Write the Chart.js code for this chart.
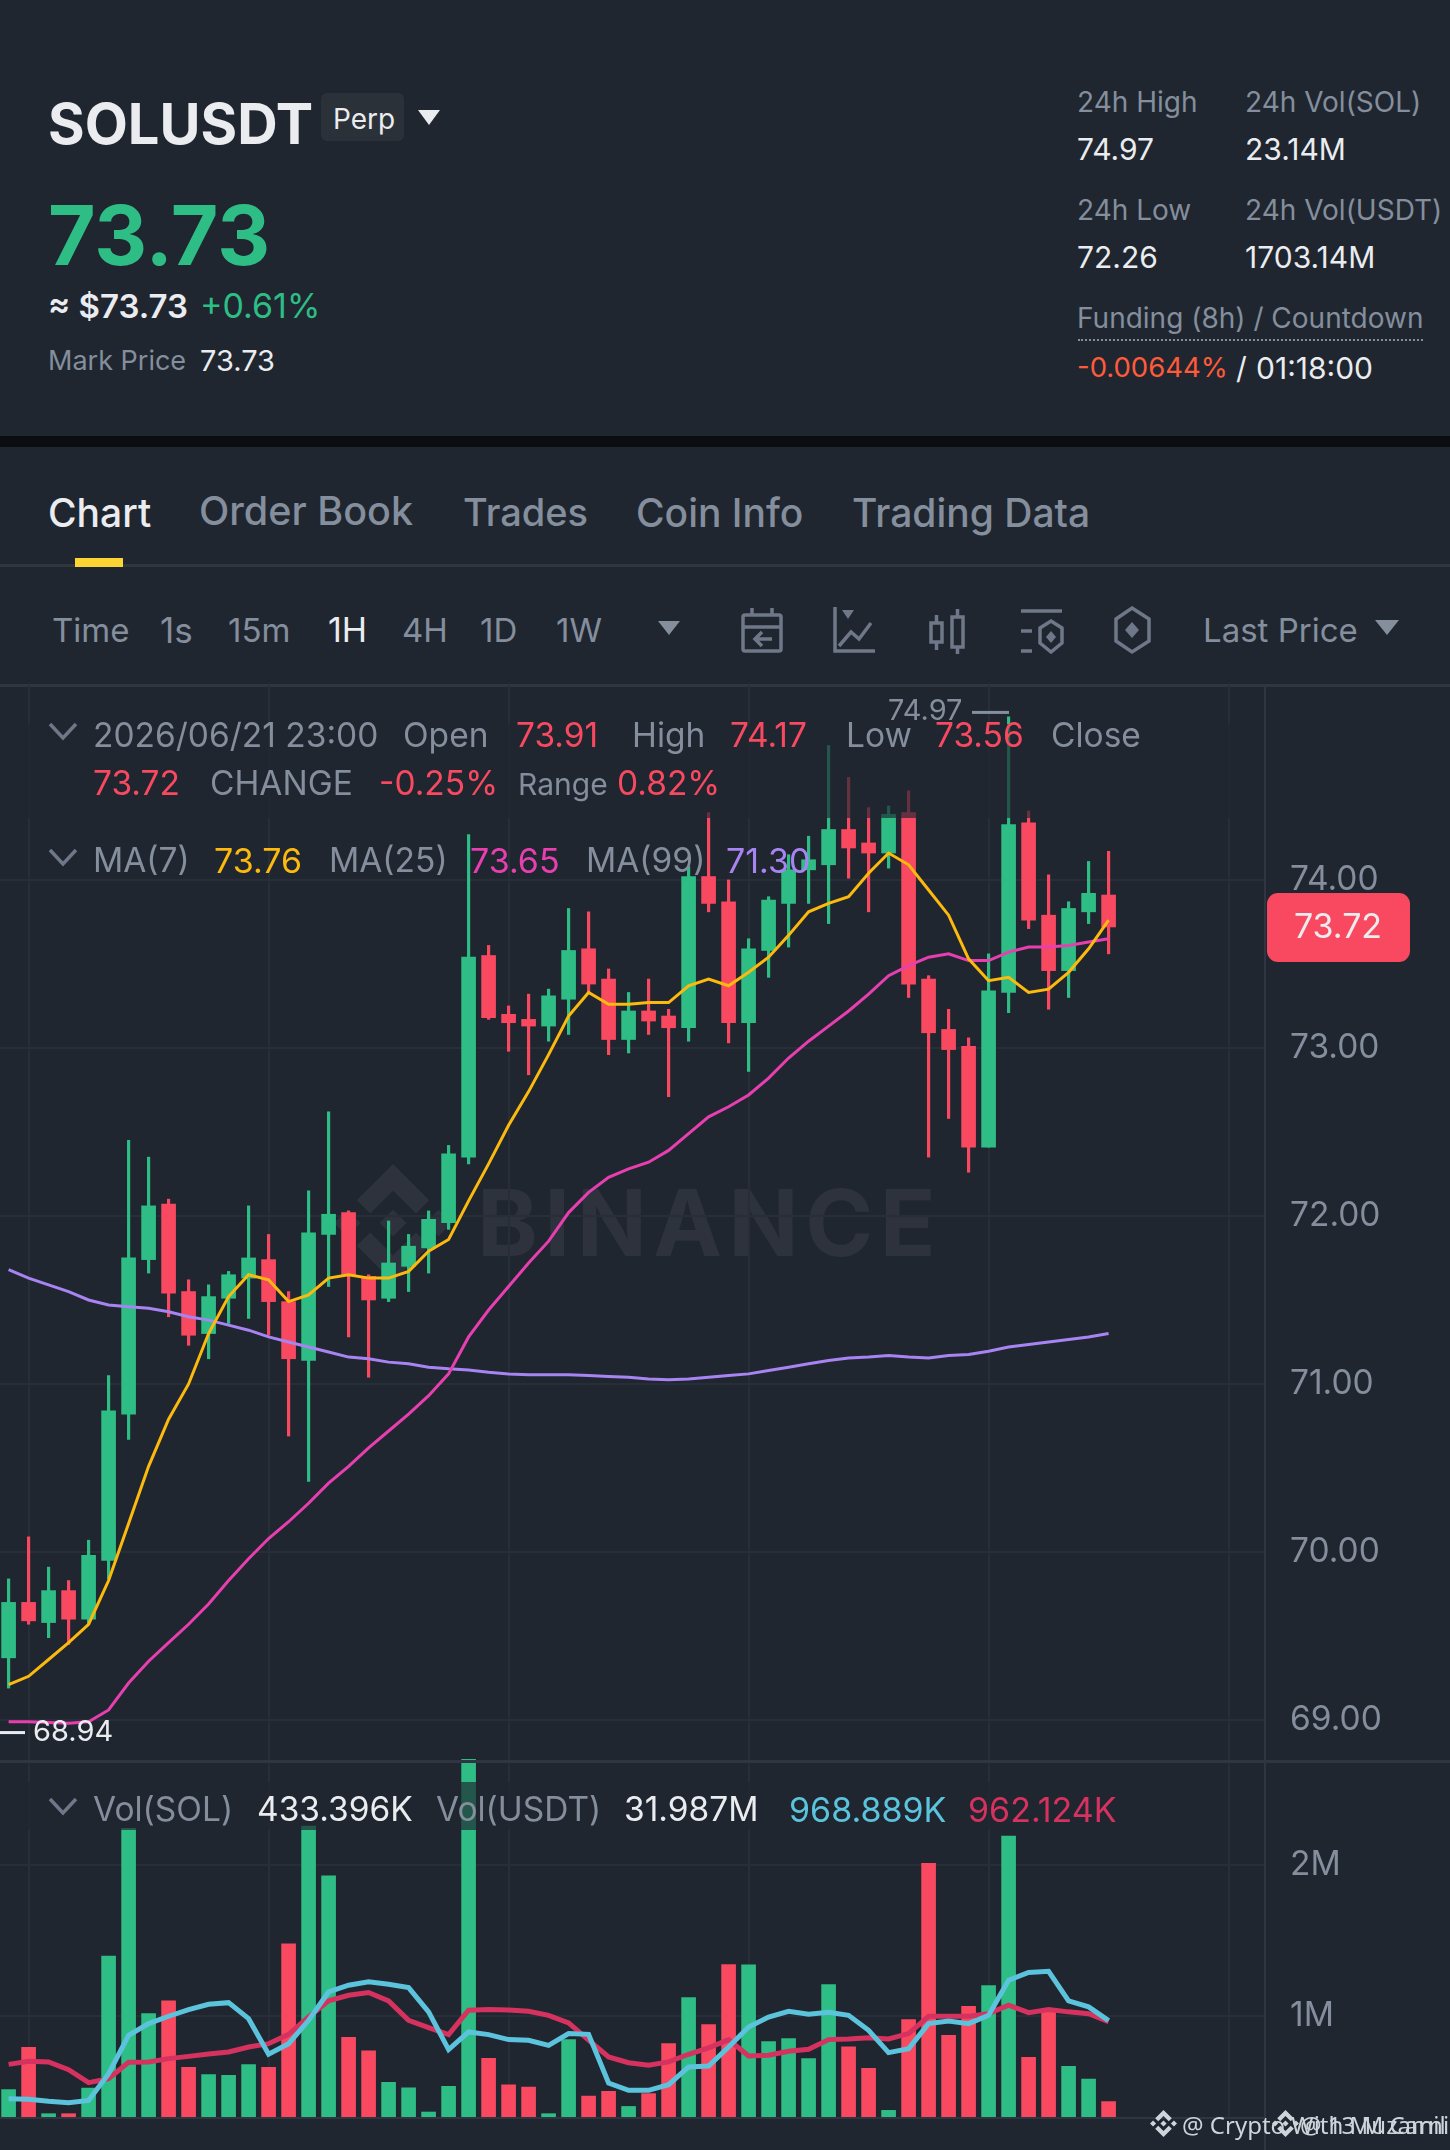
<!DOCTYPE html>
<html lang="en">
<head>
<meta charset="UTF-8">
<title>SOLUSDT Perp</title>
<script src="https://cdn.jsdelivr.net/npm/chart.js"></script>
<style>
  html, body { margin: 0; padding: 0; background: #1f2630; }
  body { width: 1450px; height: 2150px; position: relative; overflow: hidden; font-family: Inter, "Open Sans", sans-serif; color: #848e9c; }
  .t { position: absolute; white-space: pre; line-height: 1; transform: translateY(-50%); }
  .s28 { font-size: 28px; }
  .v30 { font-size: 30px; }
  .s33 { font-size: 33.5px; }
  .w { color: #eaecef; }
  .g { color: #2ebd85; }
  .r { color: #f84960; }
  .line { position: absolute; background: #2f3541; }
  .box { position: absolute; left: 0; background: rgba(31, 38, 48, 0.68); }
  canvas { position: absolute; left: 0; }
  svg { position: absolute; overflow: visible; }
</style>
</head>
<body>
  <!-- header -->
  <div class="t w" style="left:48px;top:124px;font-size:56px;font-weight:700">SOLUSDT</div>
  <div style="position:absolute;left:321px;top:93px;width:83px;height:48px;background:#2b3139;border-radius:6px"></div>
  <div class="t w" style="left:333px;top:119px;font-size:28px">Perp</div>
  <svg style="left:418px;top:110px" width="22" height="16"><polygon points="0,0 22,0 11,15" fill="#eaecef"/></svg>
  <div class="t g" style="left:48px;top:236px;font-size:82px;font-weight:700">73.73</div>
  <div class="t w" style="left:48px;top:306px;font-size:33px;font-weight:600">≈ $73.73</div>
  <div class="t g" style="left:200px;top:306px;font-size:34px">+0.61%</div>
  <div class="t" style="left:48px;top:360px;font-size:27px">Mark Price</div>
  <div class="t s28 w" style="left:200px;top:360px;font-size:29px">73.73</div>

  <div class="t s28" style="left:1077px;top:102px">24h High</div>
  <div class="t s28" style="left:1245px;top:102px">24h Vol(SOL)</div>
  <div class="t v30 w" style="left:1077px;top:149px">74.97</div>
  <div class="t v30 w" style="left:1245px;top:149px">23.14M</div>
  <div class="t s28" style="left:1077px;top:210px">24h Low</div>
  <div class="t s28" style="left:1245px;top:210px">24h Vol(USDT)</div>
  <div class="t v30 w" style="left:1077px;top:257px">72.26</div>
  <div class="t v30 w" style="left:1245px;top:257px">1703.14M</div>
  <div class="t s28" style="left:1077px;top:318px">Funding (8h) / Countdown</div>
  <div style="position:absolute;left:1078px;top:339px;width:345px;border-top:2px dotted #848e9c"></div>
  <div class="t" style="left:1077px;top:368px;color:#ff5b3a;font-size:27.5px">-0.00644%</div>
  <div class="t v30 w" style="left:1236px;top:368px">/</div>
  <div class="t v30 w" style="left:1256px;top:368px">01:18:00</div>

  <div style="position:absolute;left:0;top:436px;width:1450px;height:11px;background:#0b0e11"></div>

  <!-- tabs -->
  <div class="t w" style="left:48px;top:512px;font-size:39px;font-weight:500">Chart</div>
  <div class="t" style="left:199px;top:512px;font-size:39.500px;font-weight:500">Order Book</div>
  <div class="t" style="left:463px;top:512px;font-size:38px;font-weight:500">Trades</div>
  <div class="t" style="left:636px;top:512px;font-size:39px;font-weight:500">Coin Info</div>
  <div class="t" style="left:852px;top:512px;font-size:39px;font-weight:500">Trading Data</div>
  <div class="line" style="left:0;top:564px;width:1450px;height:3px"></div>
  <div style="position:absolute;left:75px;top:558px;width:48px;height:9px;background:#fcd535"></div>

  <!-- toolbar -->
  <div class="t" style="left:52px;top:630px;font-size:33px">Time</div>
  <div class="t" style="left:160px;top:630px;font-size:35px">1s</div>
  <div class="t" style="left:228px;top:630px;font-size:33px">15m</div>
  <div class="t w" style="left:328px;top:630px;font-size:34px">1H</div>
  <div class="t" style="left:402px;top:630px;font-size:33px">4H</div>
  <div class="t" style="left:480px;top:630px;font-size:33px">1D</div>
  <div class="t" style="left:556px;top:630px;font-size:33px">1W</div>
  <svg style="left:658px;top:621px" width="22" height="14"><polygon points="0,0 22,0 11,14" fill="#848e9c"/></svg>
  <svg style="left:740px;top:606px" width="44" height="48" fill="none" stroke="#6f7888" stroke-width="3.5">
    <rect x="3" y="9" width="38" height="36" rx="2"/><path d="M3 21H41M12 2V9M32 2V9M32 33H15M22 26L15 33L22 40"/>
  </svg>
  <svg style="left:833px;top:606px" width="44" height="48" fill="none" stroke="#6f7888" stroke-width="3.5">
    <path d="M2 1V45H42M6 40L18 26L26 33L38 17"/><polygon points="9,4 21,4 15,13" fill="#6f7888" stroke="none"/>
  </svg>
  <svg style="left:929px;top:606px" width="40" height="48" fill="none" stroke="#6f7888" stroke-width="3.5">
    <rect x="2" y="17" width="11" height="19"/><path d="M7.500 9V17M7.500 36V44"/><rect x="23" y="11" width="11" height="30"/><path d="M28.500 3V11M28.500 41V48"/>
  </svg>
  <svg style="left:1020px;top:606px" width="44" height="50" fill="none" stroke="#6f7888" stroke-width="3.500">
    <path d="M1 5H42M1 25H12M1 45H12"/><polygon points="31,15 42,22 42,37 31,46 20,37 20,22"/><polygon points="31,25 36,31 31,37 26,31" fill="#6f7888" stroke="none"/>
  </svg>
  <svg style="left:1114px;top:605px" width="38" height="50" fill="none" stroke="#6f7888" stroke-width="3.500">
    <polygon points="18,3 35,14 35,36 18,47 2,36 2,14"/><polygon points="18,17 25,25 18,33 11,25" fill="#6f7888" stroke="none"/>
  </svg>
  <div class="t" style="left:1203px;top:630px;font-size:33px">Last Price</div>
  <svg style="left:1375px;top:620px" width="24" height="16"><polygon points="0,0 24,0 12,15" fill="#848e9c"/></svg>
  <div class="line" style="left:0;top:684px;width:1450px;height:3px"></div>

  <!-- watermark behind the canvas -->
  <svg style="left:334px;top:1164px" width="118" height="118" viewBox="0 0 126.61 126.61" fill="#2d323d">
    <path id="bn" d="M38.73 53.2l24.59-24.58 24.6 24.6 14.3-14.31L63.32 0 24.42 38.9l14.31 14.3zM0 63.31l14.3-14.31 14.31 14.31-14.31 14.3zM38.73 73.41l24.59 24.59 24.6-24.6 14.31 14.29-38.9 38.91-38.91-38.88v-.03l14.31-14.28zM98 63.31l14.3-14.31 14.31 14.3-14.31 14.32zM77.83 63.3L63.32 48.78 52.59 59.51l-1.24 1.23-2.54 2.54 14.51 14.5 14.51-14.47z"/>
  </svg>
  <div class="t" style="left:477px;top:1223px;font-size:92px;font-weight:700;color:#2d323d;letter-spacing:6.500px">BINANCE</div>

  <canvas id="candleChart" width="1450" height="1076" style="top:685px"></canvas>
  <canvas id="volChart" width="1450" height="400" style="top:1750px"></canvas>

  <div class="line" style="left:0;top:1760px;width:1450px;height:3px"></div>
  <div class="line" style="left:0;top:2117px;width:1265px;height:2px"></div>
  <div class="line" style="left:1264px;top:685px;width:2px;height:1465px"></div>

  <!-- legend rows -->
  <div class="box" style="top:724px;width:1245px;height:94px"></div>
  <div class="box" style="top:1782px;width:1135px;height:48px"></div>

  <svg style="left:48px;top:722px" width="30" height="20" fill="none" stroke="#6f7888" stroke-width="3.500"><path d="M2 2L15 16L28 2"/></svg>
  <div class="t s33" style="left:93px;top:736px">2026/06/21 23:00</div>
  <div class="t s33" style="left:403px;top:736px">Open</div>
  <div class="t s33 r" style="left:516px;top:736px">73.91</div>
  <div class="t s33" style="left:632px;top:736px">High</div>
  <div class="t s33 r" style="left:730px;top:736px">74.17</div>
  <div class="t s33" style="left:846px;top:736px">Low</div>
  <div class="t s33 r" style="left:935px;top:736px">73.56</div>
  <div class="t s33" style="left:1051px;top:736px">Close</div>
  <div class="t s33 r" style="left:93px;top:784px">73.72</div>
  <div class="t s33" style="left:210px;top:784px">CHANGE</div>
  <div class="t s33 r" style="left:379px;top:784px">-0.25%</div>
  <div class="t" style="left:518px;top:784px;font-size:30px">Range</div>
  <div class="t s33 r" style="left:617px;top:784px">0.82%</div>

  <svg style="left:48px;top:848px" width="30" height="20" fill="none" stroke="#6f7888" stroke-width="3.500"><path d="M2 2L15 16L28 2"/></svg>
  <div class="t s33" style="left:93px;top:861px">MA(7)</div>
  <div class="t" style="left:214px;top:861px;color:#fcb90e;font-size:34px">73.76</div>
  <div class="t s33" style="left:329px;top:861px">MA(25)</div>
  <div class="t" style="left:470px;top:861px;color:#e83fb0;font-size:34px">73.65</div>
  <div class="t s33" style="left:586px;top:861px">MA(99)</div>
  <div class="t" style="left:726px;top:861px;color:#a884f3;font-size:34px">71.30</div>

  <svg style="left:48px;top:1797px" width="30" height="20" fill="none" stroke="#6f7888" stroke-width="3.500"><path d="M2 2L15 16L28 2"/></svg>
  <div class="t s33" style="left:93px;top:1810px">Vol(SOL)</div>
  <div class="t s33 w" style="left:257px;top:1810px">433.396K</div>
  <div class="t s33" style="left:436px;top:1810px">Vol(USDT)</div>
  <div class="t s33 w" style="left:624px;top:1810px">31.987M</div>
  <div class="t" style="left:789px;top:1810px;color:#5cc3dd;font-size:34px">968.889K</div>
  <div class="t" style="left:968px;top:1810px;color:#d6325f;font-size:34px">962.124K</div>

  <!-- user watermarks, two overlapping -->
  <svg style="left:1150px;top:2110px" width="27" height="27" viewBox="0 0 126.61 126.61" fill="#cfd3da"><use href="#bn"/></svg>
  <svg style="left:1272px;top:2110px" width="27" height="27" viewBox="0 0 126.61 126.61" fill="#cfd3da"><use href="#bn"/></svg>
  <div class="t" style="left:1182px;top:2125px;font-size:24px;color:#cfd3da;font-family:'Noto Sans'">@ Crypto With Muzamil</div>
  <div class="t" style="left:1300px;top:2125px;font-size:24px;color:#cfd3da;font-family:'Noto Sans'">@ 13 M Carnis</div>

<script>
  const opens = [69.37,69.70,69.58,69.77,69.60,69.95,70.82,71.74,72.07,71.55,71.30,71.51,71.63,71.74,71.49,71.14,71.89,72.02,71.64,71.51,71.70,71.81,71.96,72.35,73.55,73.20,73.17,73.13,73.29,73.59,73.41,73.05,73.22,73.19,73.12,74.02,73.87,73.15,73.58,73.86,74.06,74.09,74.30,74.22,74.16,74.40,73.41,73.11,73.01,72.41,73.33,74.34,73.79,73.46,73.81,73.91];
  const highs = [69.84,70.09,69.91,69.83,70.07,71.05,72.45,72.35,72.10,71.62,71.59,71.67,72.06,71.89,71.55,72.15,72.62,72.03,71.65,71.97,71.89,72.03,72.42,74.27,73.61,73.25,73.32,73.35,73.83,73.81,73.47,73.33,73.41,73.23,74.08,74.40,74.00,73.65,73.90,74.15,74.26,74.80,74.61,74.43,74.44,74.53,73.43,73.23,73.06,73.56,74.97,74.41,74.03,73.87,74.11,74.17];
  const lows = [69.19,69.57,69.49,69.45,69.57,69.84,70.67,71.66,71.40,71.23,71.15,71.36,71.39,71.29,70.69,70.42,71.58,71.28,71.04,71.49,71.55,71.66,71.92,72.31,73.17,72.98,72.84,73.04,73.08,73.33,72.96,72.97,73.08,72.71,73.04,73.81,73.03,72.86,73.42,73.60,73.86,73.74,74.01,73.81,74.07,73.30,72.35,72.58,72.26,72.41,73.21,73.71,73.23,73.30,73.74,73.56];
  const closes = [69.70,69.59,69.77,69.60,69.98,70.84,71.75,72.06,71.54,71.29,71.52,71.65,71.75,71.49,71.15,71.90,72.01,71.65,71.50,71.72,71.82,71.98,72.37,73.54,73.18,73.15,73.13,73.31,73.58,73.38,73.05,73.22,73.16,73.12,74.02,73.86,73.15,73.59,73.88,74.06,74.12,74.30,74.19,74.16,74.39,73.38,73.09,72.99,72.41,73.34,74.33,73.76,73.46,73.83,73.92,73.72];
  const ma7 = [69.21,69.26,69.36,69.46,69.57,69.83,70.17,70.51,70.79,71.00,71.30,71.52,71.65,71.62,71.49,71.53,71.63,71.65,71.63,71.63,71.67,71.79,71.86,72.09,72.31,72.54,72.74,72.96,73.19,73.33,73.26,73.26,73.27,73.27,73.37,73.41,73.37,73.45,73.54,73.67,73.81,73.86,73.90,74.04,74.16,74.09,73.94,73.79,73.53,73.40,73.42,73.33,73.35,73.45,73.59,73.76];
  const ma25 = [68.99,68.99,68.985,68.98,68.99,69.06,69.22,69.35,69.46,69.57,69.69,69.83,69.96,70.08,70.18,70.29,70.41,70.51,70.62,70.72,70.82,70.93,71.06,71.28,71.44,71.58,71.72,71.85,72.02,72.14,72.23,72.28,72.32,72.39,72.49,72.59,72.65,72.72,72.82,72.94,73.04,73.13,73.22,73.32,73.43,73.49,73.54,73.56,73.52,73.52,73.57,73.60,73.60,73.61,73.63,73.65];
  const ma99 = [71.68,71.63,71.59,71.55,71.50,71.47,71.46,71.45,71.43,71.40,71.38,71.35,71.32,71.28,71.25,71.22,71.19,71.16,71.15,71.13,71.12,71.10,71.09,71.083,71.07,71.06,71.055,71.055,71.055,71.05,71.045,71.04,71.03,71.025,71.03,71.04,71.05,71.06,71.08,71.10,71.12,71.14,71.155,71.16,71.17,71.16,71.155,71.17,71.175,71.195,71.22,71.235,71.25,71.265,71.28,71.30];
  const volumes = [511,792,352,352,522,1396,2243,1015,1100,659,611,606,677,659,1478,2259,1929,858,768,560,524,363,533,2701,719,544,529,352,843,469,500,400,485,816,1122,942,1341,1338,830,850,717,1208,796,653,374,976,2011,872,1064,1201,2192,726,1038,666,582,433];
  const volMaShort = [451,447,434,425,440,617,872,949,998,1042,1077,1088,982,746,816,971,1159,1204,1226,1210,1188,1027,777,894,876,843,839,805,883,878,555,507,507,544,662,668,794,927,993,1031,1011,1024,1004,905,757,783,949,967,949,1004,1237,1288,1296,1100,1060,969];
  const volMaLong = [679,699,695,644,558,584,693,695,717,732,748,761,794,816,878,993,1100,1137,1155,1100,971,923,876,1038,1042,1040,1031,1004,954,839,728,690,673,695,746,788,843,735,739,766,779,843,847,856,847,883,998,998,998,1015,1071,1022,1042,1027,1015,962];
  const priceTicks = [69, 70, 71, 72, 73, 74];
  const volTicks = [1000, 2000];
  const gridIndexes = [1, 13, 25, 37, 49, 61];
  const lastPrice = 73.72;
  const highPrice = 74.97;
  const lowPrice = 68.94;

  const GREEN = '#2ebd85', RED = '#f84960', GRID = '#282e38', TEXT = '#848e9c';
  const FONT = 'Inter, "Open Sans", sans-serif';
  // one candle every 20px, first centre 8.6px from the left edge
  const xMin = -0.43, xMax = 62.82;

  const colors = opens.map((o, i) => closes[i] >= o ? GREEN : RED);
  const pts = arr => arr.map((y, x) => ({ x, y }));
  const line = (data, color, width) => ({
    type: 'line', data: pts(data), borderColor: color, borderWidth: width,
    pointRadius: 0, tension: 0, order: 1
  });

  const xScale = {
    type: 'linear', min: xMin, max: xMax, offset: false,
    border: { display: false },
    ticks: { display: false },
    grid: { color: GRID, lineWidth: 2, drawTicks: false, offset: false },
    afterBuildTicks: s => { s.ticks = gridIndexes.map(value => ({ value })); },
    afterFit: s => { s.height = 0; s.paddingLeft = 0; s.paddingRight = 0; }
  };

  const yScale = (min, max, tickList, fmt) => ({
    position: 'right', min, max,
    border: { display: false },
    grid: { color: GRID, lineWidth: 2, drawTicks: false },
    ticks: { color: TEXT, font: { family: FONT, size: 33.5 }, padding: 25, callback: fmt },
    afterBuildTicks: s => { s.ticks = tickList.map(value => ({ value })); },
    afterFit: s => { s.width = 185; s.paddingTop = 0; s.paddingBottom = 0; }
  });

  // price tag on the axis and the 24h extreme labels
  const priceMarks = {
    id: 'priceMarks',
    afterDraw(chart) {
      const { ctx } = chart;
      const y = chart.scales.y;
      ctx.save();
      const py = y.getPixelForValue(lastPrice);
      ctx.fillStyle = RED;
      ctx.beginPath();
      ctx.roundRect(1267, py - 34, 143, 69, 11);
      ctx.fill();
      ctx.fillStyle = '#eaecef';
      ctx.font = '34px ' + FONT;
      ctx.textAlign = 'center';
      ctx.textBaseline = 'middle';
      ctx.fillText(lastPrice.toFixed(2), 1338, py + 1);

      ctx.font = '29px ' + FONT;
      ctx.textAlign = 'left';
      const hy = y.getPixelForValue(highPrice) - 6;
      ctx.fillStyle = TEXT;
      ctx.fillText(highPrice.toFixed(2), 888, hy);
      ctx.fillRect(972, hy, 37, 3);
      const ly = y.getPixelForValue(lowPrice) + 2;
      ctx.fillStyle = '#eaecef';
      ctx.fillText(lowPrice.toFixed(2), 33, ly);
      ctx.fillRect(0, ly - 1, 25, 3);
      ctx.restore();
    }
  };

  new Chart(document.getElementById('candleChart'), {
    type: 'bar',
    data: {
      datasets: [
        { data: highs.map((h, i) => ({ x: i, y: [lows[i], h] })), backgroundColor: colors, barThickness: 2.5, grouped: false, order: 3 },
        { data: opens.map((o, i) => ({ x: i, y: [o, closes[i]] })), backgroundColor: colors, barThickness: 14, grouped: false, order: 2 },
        line(ma7, '#fcb90e', 3),
        line(ma25, '#e83fb0', 3),
        line(ma99, '#a884f3', 3)
      ]
    },
    options: {
      responsive: false,
      animation: false,
      layout: { padding: 0 },
      plugins: { legend: { display: false }, tooltip: { enabled: false } },
      scales: { x: xScale, y: yScale(68.756, 75.16, priceTicks, v => v.toFixed(2)) }
    },
    plugins: [priceMarks]
  });

  new Chart(document.getElementById('volChart'), {
    type: 'bar',
    data: {
      datasets: [
        { data: pts(volumes), backgroundColor: colors, barThickness: 14, order: 2 },
        line(volMaShort, '#5cc3dd', 5),
        line(volMaLong, '#d6325f', 5)
      ]
    },
    options: {
      responsive: false,
      animation: false,
      layout: { padding: { bottom: 33 } },
      plugins: { legend: { display: false }, tooltip: { enabled: false } },
      scales: { x: xScale, y: yScale(330, 2763, volTicks, v => (v / 1000) + 'M') }
    }
  });
</script>
</body>
</html>
